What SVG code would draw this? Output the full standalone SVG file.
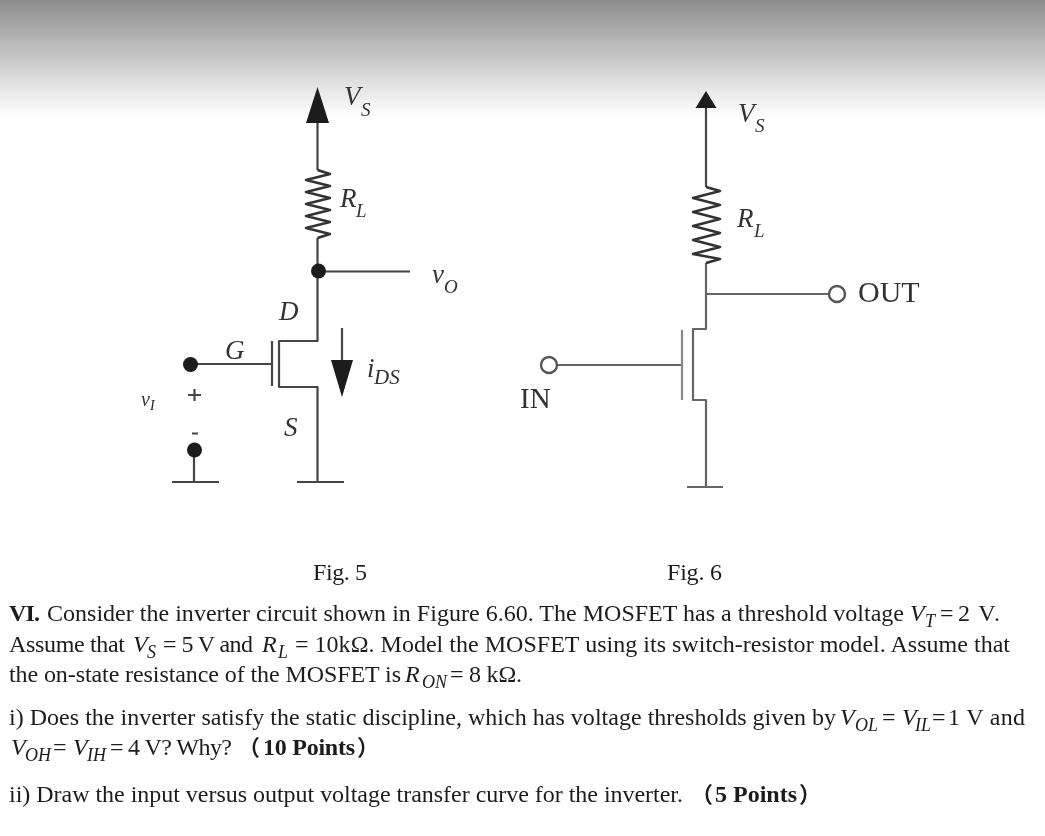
<svg xmlns="http://www.w3.org/2000/svg" width="1045" height="836" viewBox="0 0 1045 836">
<style>
g{filter:url(#soft)}
text{font-family:"Liberation Serif","Noto Sans CJK SC",serif;fill:#1c1c1c}
.w{fill:none;stroke:#444;stroke-width:2.2;stroke-linejoin:round}
.w2{fill:none;stroke:#666;stroke-width:2.2;stroke-linejoin:round}
.r{fill:none;stroke:#333;stroke-width:2.6;stroke-linejoin:round}
.t{font-size:24px}
.i{font-style:italic}
.b{font-weight:700}
.s{font-size:18px;font-style:italic}
.l{font-size:27px;font-style:italic;fill:#333}
.ls{font-size:19px;font-style:italic;fill:#333}
.h{fill:#1c1c1c}
.o{fill:#fff;stroke:#555;stroke-width:2.4}
.c{font-family:"Noto Sans CJK SC","Liberation Serif",sans-serif;font-weight:700;font-size:22px}
</style>
<defs>
<filter id="soft" filterUnits="userSpaceOnUse" x="0" y="0" width="1045" height="836"><feGaussianBlur stdDeviation="0.35"/></filter>
<linearGradient id="top" x1="0" y1="0" x2="0" y2="1">
<stop offset="0" stop-color="#8c8c8c"/>
<stop offset="0.4" stop-color="#bdbdbd"/>
<stop offset="0.75" stop-color="#e6e6e6"/>
<stop offset="1" stop-color="#fff"/>
</linearGradient>
</defs>
<rect width="1045" height="836" fill="#fff"/>
<rect width="1045" height="118" fill="url(#top)"/>

<g id="connectors">
<path class="w" d="M317.500 123V170"/>
<path class="w" d="M317.500 238V341H279V387H317.500V482"/>
<path class="w" d="M318 271.500H410"/>
<path class="w" d="M190 364H272"/>
<path class="w" d="M194 450V482"/>
<path class="w" d="M706 108V187"/>
<path class="w2" d="M706 263V329H693V400H706V487"/>
<path class="w2" d="M706 294H829"/>
<path class="w2" d="M557 365H682"/>
</g>

<g id="fig5-supply">
<path class="h" d="M317.500 87L329 123H306Z"/>
<text class="l" x="344" y="105">V</text><text class="ls" x="361" y="116">S</text>
</g>
<g id="fig5-resistor">
<path class="r" d="M317.500 170L330 174L306 180L330 186L306 192L330 198L306 204L330 210L306 216L330 222L306 228L330 234L317.500 238"/>
<text class="l" x="340" y="207">R</text><text class="ls" x="356" y="217">L</text>
</g>
<g id="fig5-output">
<circle class="h" cx="318.500" cy="271" r="7.500"/>
<text class="l" x="432" y="283">v</text><text class="ls" x="444" y="293">O</text>
</g>
<g id="fig5-mosfet">
<path class="w" d="M272 341V386"/>
<text class="l" x="279" y="320">D</text>
<text class="l" x="225" y="359">G</text>
<text class="l" x="284" y="436">S</text>
</g>
<g id="fig5-current">
<path class="w" d="M342 328V362"/>
<path class="h" d="M331 360H353L342 397Z"/>
<text class="l" x="367" y="377">i</text><text class="ls" x="374" y="384" style="font-size:21px">DS</text>
</g>
<g id="fig5-input">
<circle class="h" cx="190.500" cy="364.500" r="7.500"/>
<circle class="h" cx="194.500" cy="450" r="7.500"/>
<path class="w" d="M188 395H201M194.500 389V401M192 433.500H198"/>
<text class="ls" x="141" y="406" style="font-size:20px">v</text><text class="s" x="150" y="410" style="font-size:14px">I</text>
</g>
<g id="fig5-grounds">
<path class="w" d="M172 482H219M297 482H344"/>
</g>

<g id="fig6-supply">
<path class="h" d="M706 91L716.500 108H695.500Z"/>
<text class="l" x="738" y="122">V</text><text class="ls" x="755" y="132">S</text>
</g>
<g id="fig6-resistor">
<path class="r" d="M706 187L720 191L693 198L720 205L693 212L720 219L693 226L720 233L693 240L720 247L693 254L720 259L706 263"/>
<text class="l" x="737" y="227">R</text><text class="ls" x="754" y="237">L</text>
</g>
<g id="fig6-output">
<circle class="o" cx="837" cy="294" r="8"/>
<text x="858" y="302" font-size="30" style="fill:#333">OUT</text>
</g>
<g id="fig6-mosfet">
<path class="w2" d="M682 330V400" style="stroke:#888"/>
</g>
<g id="fig6-input">
<circle class="o" cx="549" cy="365" r="8"/>
<text x="520" y="408" font-size="29" style="fill:#333">IN</text>
</g>
<g id="fig6-ground">
<path class="w2" d="M687 487H723"/>
</g>

<g id="caption">
<text class="t" x="313" y="580" textLength="54">Fig. 5</text>
<text class="t" x="667" y="580" textLength="55">Fig. 6</text>

<text class="t b" x="9" y="621" textLength="31">VI.</text>
<text class="t" x="47" y="621" textLength="857">Consider the inverter circuit shown in Figure 6.60. The MOSFET has a threshold voltage</text>
<text class="t i" x="910" y="621">V</text><text class="s" x="925" y="627">T</text>
<text class="t" x="940" y="621">=</text><text class="t" x="958" y="621" textLength="42">2 V.</text>

<text class="t" x="9" y="652" textLength="116">Assume that</text>
<text class="t i" x="133" y="652">V</text><text class="s" x="147" y="658">S</text>
<text class="t" x="163" y="652" textLength="90">= 5 V and</text>
<text class="t i" x="262" y="652">R</text><text class="s" x="278" y="658">L</text>
<text class="t" x="295" y="652" textLength="715">= 10kΩ. Model the MOSFET using its switch-resistor model. Assume that</text>

<text class="t" x="9" y="682" textLength="392">the on-state resistance of the MOSFET is</text>
<text class="t i" x="405" y="682">R</text><text class="s" x="422" y="688">ON</text>
<text class="t" x="450" y="682" textLength="72">= 8 kΩ.</text>

<text class="t" x="9" y="725" textLength="827">i) Does the inverter satisfy the static discipline, which has voltage thresholds given by</text>
<text class="t i" x="840" y="725">V</text><text class="s" x="855" y="731">OL</text>
<text class="t" x="882" y="725">=</text>
<text class="t i" x="902" y="725">V</text><text class="s" x="915" y="731">IL</text>
<text class="t" x="932" y="725">=</text>
<text class="t" x="948" y="725" textLength="77">1 V and</text>

<text class="t i" x="11" y="755">V</text><text class="s" x="25" y="761">OH</text>
<text class="t" x="53" y="755">=</text>
<text class="t i" x="73" y="755">V</text><text class="s" x="87" y="761">IH</text>
<text class="t" x="110" y="755">=</text>
<text class="t" x="128" y="755" textLength="104">4 V? Why?</text>
<text class="c" x="238" y="755">（</text><text class="t b" x="263" y="755" textLength="92">10 Points</text><text class="c" x="357" y="755">）</text>

<text class="t" x="9" y="802" textLength="674">ii) Draw the input versus output voltage transfer curve for the inverter.</text>
<text class="c" x="691" y="802">（</text><text class="t b" x="715" y="802" textLength="82">5 Points</text><text class="c" x="799" y="802">）</text>
</g>
</svg>
